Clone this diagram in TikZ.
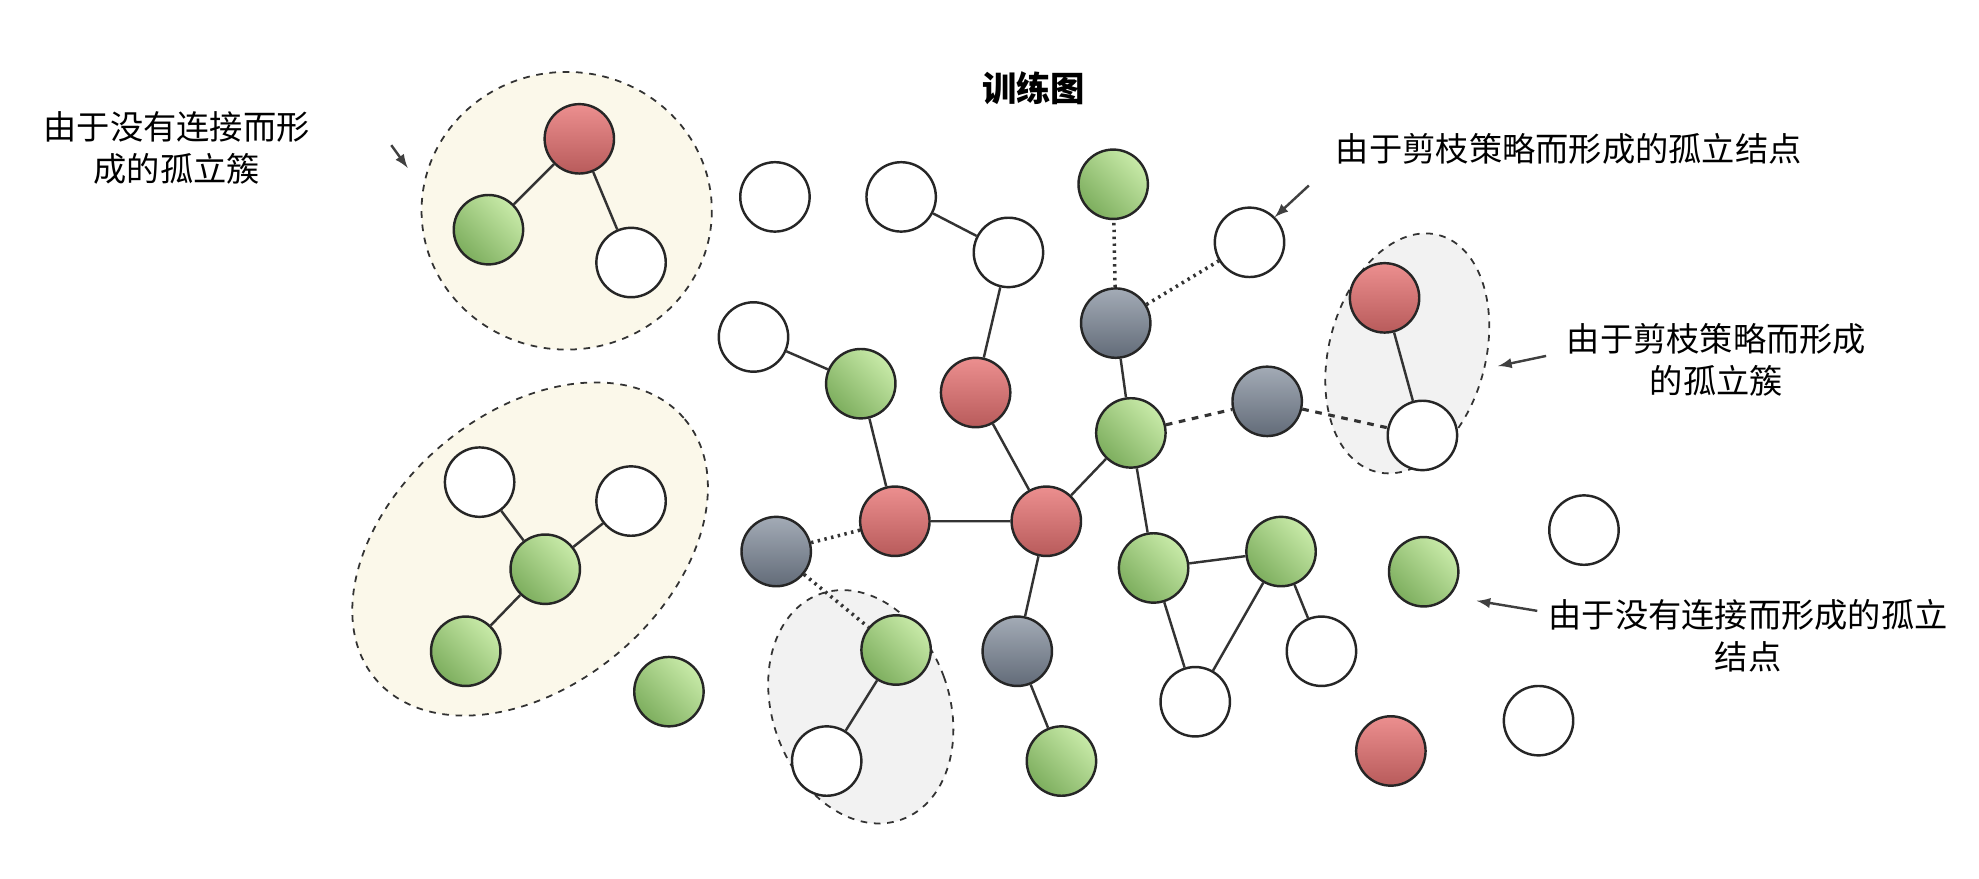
\documentclass[tikz,border=0pt]{standalone}
\usepackage{fontspec}
\setmainfont{Noto Sans CJK SC}
\usetikzlibrary{shadings}
\begin{document}
\begin{tikzpicture}[x=0.02cm,y=-0.02cm,
  nd/.style={circle,draw=black!85,line width=1.1pt,minimum size=1.1cm,inner sep=0pt},
  wn/.style={nd,fill=white},
  rn/.style={nd,top color=rtop,bottom color=rbot},
  gn/.style={nd,left color=gbot,right color=gtop,shading angle=135},
  yn/.style={nd,top color=ytop,bottom color=ybot},
  ln/.style={line width=1.1pt,draw=black!80},
  dt/.style={ln,dotted,line width=1.6pt},
  ds/.style={ln,dashed,line width=1.4pt},
  grp/.style={draw=black!80,dashed,line width=0.8pt},
  lb/.style={font=\fontsize{15}{19}\selectfont,align=center},
  ar/.style={-latex,line width=1.1pt,draw=black!75}]
\definecolor{rtop}{HTML}{EC8F8F}
\definecolor{rbot}{HTML}{B85B5B}
\definecolor{gtop}{HTML}{C8EAA8}
\definecolor{gbot}{HTML}{7DAE5E}
\definecolor{ytop}{HTML}{A3ABB6}
\definecolor{ybot}{HTML}{626B78}
\definecolor{beige}{HTML}{FBF8EA}
\definecolor{lg}{HTML}{F2F2F2}
\useasboundingbox (0,0) rectangle (1568,696);
\draw[grp,fill=beige] (449,167) ellipse [x radius=115,y radius=110];
\draw[grp,fill=beige,rotate around={40:(420,435)}] (420,435) ellipse [x radius=160,y radius=108];
\draw[grp,fill=lg,rotate around={-15:(1115,280)}] (1115,280) ellipse [x radius=62,y radius=97];
\draw[grp,fill=lg,rotate around={20:(682,560)}] (682,560) ellipse [x radius=70,y radius=95];
\node[rn] (R1) at (459,110) {}; \node[gn] (G1) at (387,182) {}; \node[wn] (W1) at (500,208) {};
\node[wn] (W2) at (380,382) {}; \node[wn] (W3) at (500,397) {}; \node[gn] (G2) at (432,451) {}; \node[gn] (G3) at (369,516) {};
\node[wn] (W4) at (614,156) {}; \node[wn] (W5) at (714,156) {}; \node[wn] (W6) at (799,200) {};
\node[gn] (G4) at (882,146) {}; \node[wn] (W7) at (990,192) {}; \node[wn] (W8) at (597,267) {};
\node[gn] (G5) at (682,304) {}; \node[rn] (R2) at (773,311) {}; \node[yn] (Y1) at (884,256) {};
\node[gn] (G6) at (896,343) {}; \node[yn] (Y2) at (1004,318) {}; \node[rn] (R3) at (1097,236) {};
\node[wn] (W9) at (1127,345) {}; \node[rn] (R4) at (709,413) {}; \node[rn] (R5) at (829,413) {};
\node[yn] (Y3) at (615,437) {}; \node[gn] (G7) at (914,450) {}; \node[gn] (G8) at (1015,437) {};
\node[gn] (G9) at (1128,453) {}; \node[wn] (W10) at (1255,420) {}; \node[gn] (G10) at (710,515) {};
\node[wn] (W11) at (655,603) {}; \node[yn] (Y4) at (806,516) {}; \node[gn] (G11) at (841,603) {};
\node[wn] (W12) at (1047,516) {}; \node[wn] (W13) at (947,556) {}; \node[gn] (G12) at (530,548) {};
\node[rn] (R6) at (1102,595) {}; \node[wn] (W14) at (1219,571) {};
\draw[ln] (R1)--(G1) (R1)--(W1) (W5)--(W6) (W6)--(R2) (W8)--(G5) (G5)--(R4) (R2)--(R5) (R4)--(R5)
 (R5)--(G6) (G6)--(Y1) (R3)--(W9) (G6)--(G7) (G7)--(G8) (G7)--(W13) (G8)--(W13) (G8)--(W12)
 (R5)--(Y4) (Y4)--(G11) (G10)--(W11) (W2)--(G2) (W3)--(G2) (G2)--(G3);
\draw[dt] (Y1)--(G4) (Y1)--(W7) (R4)--(Y3) (Y3)--(G10);
\draw[ds] (G6)--(Y2) (Y2)--(W9);
\node[font=\fontsize{15.5}{18}\selectfont\bfseries] (T) at (819,70) {训练图};
\node[lb] (L1) at (140,117) {由于没有连接而形\\成的孤立簇};
\node[lb] (L2) at (1243,118) {由于剪枝策略而形成的孤立结点};
\node[lb] (L3) at (1360,285) {由于剪枝策略而形成\\的孤立簇};
\node[lb] (L4) at (1385,504) {由于没有连接而形成的孤立\\结点};
\coordinate (a1) at (310,115); \coordinate (b1) at (323,133);
\coordinate (a2) at (1037,147); \coordinate (b2) at (1010,172);
\coordinate (a3) at (1225,282); \coordinate (b3) at (1187,290);
\coordinate (a4) at (1218,484); \coordinate (b4) at (1170,476);
\draw[ar] (a1)--(b1); \draw[ar] (a2)--(b2); \draw[ar] (a3)--(b3); \draw[ar] (a4)--(b4);
\end{tikzpicture}
\end{document}
